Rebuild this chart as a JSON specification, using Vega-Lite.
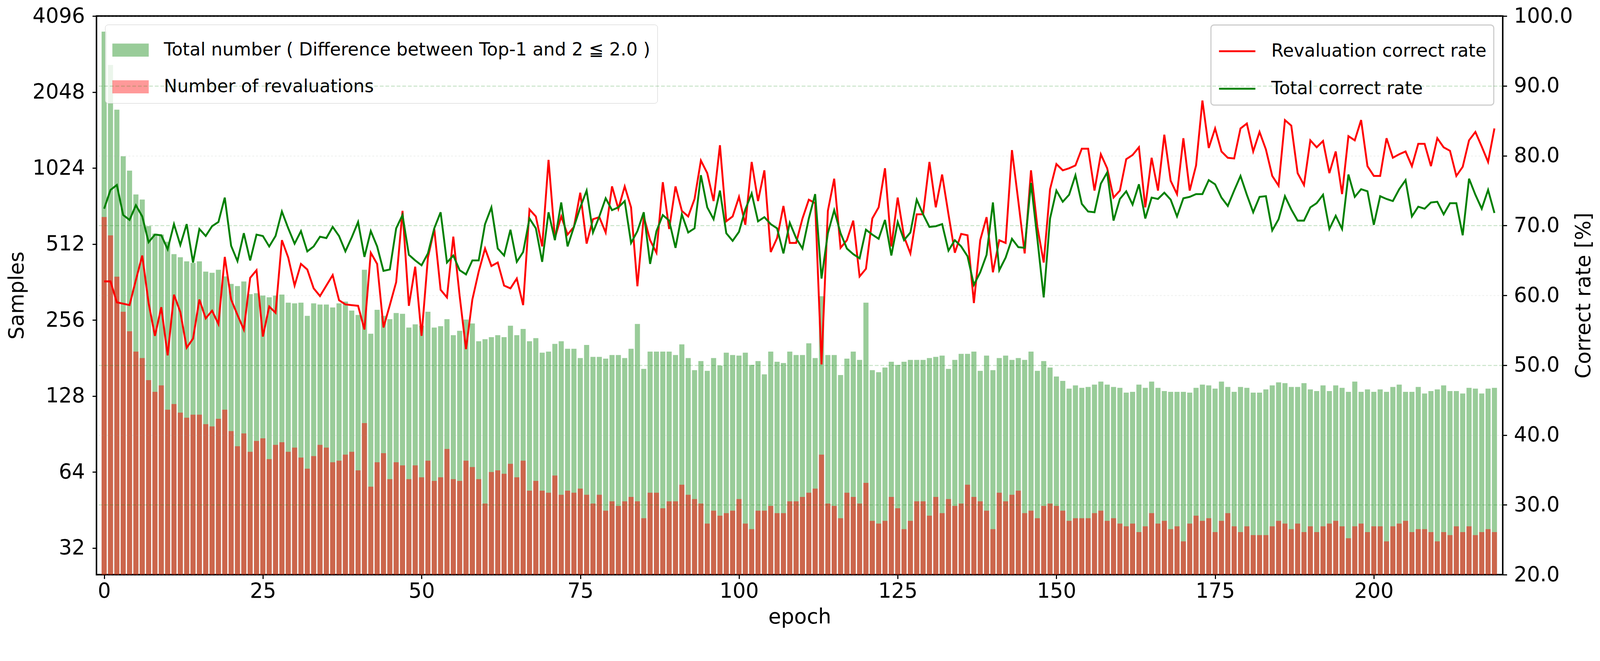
{
"$schema":"https://vega.github.io/schema/vega-lite/v6.json",
"width":3600,"height":1430,
"autosize":{"type":"none"},
"padding":{"left":247,"top":41,"right":258,"bottom":154},
"background":"white",
"config":{
"font":"DejaVu Sans",
"view":{"stroke":"black","strokeWidth":3.8},
"axis":{"labelFont":"DejaVu Sans","titleFont":"DejaVu Sans","labelFontSize":52.8,"titleFontSize":52.8,"labelColor":"black","titleColor":"black","titleFontWeight":"normal","tickColor":"black","tickWidth":2.9,"tickSize":10.6,"domain":false,"grid":false}
},
"data":{"values":[
{"epoch":0,"total":3552,"reval":655,"reval_rate":62.0,"total_rate":72.4},
{"epoch":1,"total":2621,"reval":554,"reval_rate":62.0,"total_rate":75.1},
{"epoch":2,"total":1743,"reval":380,"reval_rate":59.0,"total_rate":75.8},
{"epoch":3,"total":1140,"reval":276,"reval_rate":58.8,"total_rate":71.5},
{"epoch":4,"total":1000,"reval":231,"reval_rate":58.6,"total_rate":70.8},
{"epoch":5,"total":805,"reval":192,"reval_rate":62.2,"total_rate":72.9},
{"epoch":6,"total":768,"reval":181,"reval_rate":65.7,"total_rate":71.3},
{"epoch":7,"total":603,"reval":148,"reval_rate":58.9,"total_rate":67.6},
{"epoch":8,"total":563,"reval":133,"reval_rate":54.2,"total_rate":68.7},
{"epoch":9,"total":558,"reval":141,"reval_rate":58.3,"total_rate":68.6},
{"epoch":10,"total":523,"reval":113,"reval_rate":51.4,"total_rate":66.6},
{"epoch":11,"total":467,"reval":119,"reval_rate":60.1,"total_rate":70.2},
{"epoch":12,"total":454,"reval":110,"reval_rate":57.6,"total_rate":67.2},
{"epoch":13,"total":437,"reval":105,"reval_rate":52.5,"total_rate":70.2},
{"epoch":14,"total":431,"reval":108,"reval_rate":53.8,"total_rate":64.7},
{"epoch":15,"total":437,"reval":108,"reval_rate":59.4,"total_rate":69.5},
{"epoch":16,"total":398,"reval":99,"reval_rate":56.7,"total_rate":68.5},
{"epoch":17,"total":394,"reval":97,"reval_rate":57.8,"total_rate":69.9},
{"epoch":18,"total":405,"reval":104,"reval_rate":55.9,"total_rate":70.5},
{"epoch":19,"total":381,"reval":113,"reval_rate":65.5,"total_rate":74.0},
{"epoch":20,"total":356,"reval":93,"reval_rate":59.4,"total_rate":67.1},
{"epoch":21,"total":349,"reval":81,"reval_rate":57.2,"total_rate":64.9},
{"epoch":22,"total":364,"reval":91,"reval_rate":55.1,"total_rate":68.9},
{"epoch":23,"total":324,"reval":77,"reval_rate":62.5,"total_rate":65.0},
{"epoch":24,"total":327,"reval":85,"reval_rate":63.6,"total_rate":68.7},
{"epoch":25,"total":320,"reval":87,"reval_rate":54.1,"total_rate":68.5},
{"epoch":26,"total":315,"reval":72,"reval_rate":58.4,"total_rate":67.0},
{"epoch":27,"total":320,"reval":82,"reval_rate":57.5,"total_rate":68.5},
{"epoch":28,"total":323,"reval":84,"reval_rate":67.9,"total_rate":72.0},
{"epoch":29,"total":300,"reval":77,"reval_rate":65.4,"total_rate":69.6},
{"epoch":30,"total":298,"reval":80,"reval_rate":61.4,"total_rate":67.4},
{"epoch":31,"total":300,"reval":73,"reval_rate":64.5,"total_rate":69.2},
{"epoch":32,"total":266,"reval":66,"reval_rate":63.7,"total_rate":66.3},
{"epoch":33,"total":298,"reval":74,"reval_rate":61.0,"total_rate":67.0},
{"epoch":34,"total":295,"reval":82,"reval_rate":59.9,"total_rate":68.4},
{"epoch":35,"total":295,"reval":80,"reval_rate":61.4,"total_rate":68.2},
{"epoch":36,"total":287,"reval":70,"reval_rate":62.9,"total_rate":69.8},
{"epoch":37,"total":298,"reval":71,"reval_rate":59.3,"total_rate":68.5},
{"epoch":38,"total":303,"reval":75,"reval_rate":58.7,"total_rate":66.3},
{"epoch":39,"total":279,"reval":77,"reval_rate":58.6,"total_rate":68.3},
{"epoch":40,"total":268,"reval":65,"reval_rate":58.5,"total_rate":70.5},
{"epoch":41,"total":405,"reval":100,"reval_rate":55.1,"total_rate":65.5},
{"epoch":42,"total":226,"reval":56,"reval_rate":66.1,"total_rate":69.2},
{"epoch":43,"total":281,"reval":70,"reval_rate":64.5,"total_rate":67.0},
{"epoch":44,"total":266,"reval":76,"reval_rate":55.4,"total_rate":63.5},
{"epoch":45,"total":258,"reval":60,"reval_rate":58.6,"total_rate":63.7},
{"epoch":46,"total":273,"reval":70,"reval_rate":61.9,"total_rate":69.6},
{"epoch":47,"total":271,"reval":68,"reval_rate":72.1,"total_rate":71.5},
{"epoch":48,"total":239,"reval":60,"reval_rate":58.5,"total_rate":65.8},
{"epoch":49,"total":246,"reval":68,"reval_rate":64.1,"total_rate":65.0},
{"epoch":50,"total":243,"reval":61,"reval_rate":54.2,"total_rate":64.3},
{"epoch":51,"total":276,"reval":71,"reval_rate":65.4,"total_rate":66.0},
{"epoch":52,"total":239,"reval":59,"reval_rate":69.5,"total_rate":69.6},
{"epoch":53,"total":242,"reval":61,"reval_rate":60.8,"total_rate":71.9},
{"epoch":54,"total":258,"reval":79,"reval_rate":59.7,"total_rate":64.7},
{"epoch":55,"total":223,"reval":60,"reval_rate":68.4,"total_rate":65.7},
{"epoch":56,"total":232,"reval":59,"reval_rate":59.9,"total_rate":63.6},
{"epoch":57,"total":257,"reval":71,"reval_rate":52.3,"total_rate":63.0},
{"epoch":58,"total":248,"reval":67,"reval_rate":59.4,"total_rate":65.0},
{"epoch":59,"total":211,"reval":60,"reval_rate":63.4,"total_rate":65.0},
{"epoch":60,"total":215,"reval":48,"reval_rate":66.7,"total_rate":70.2},
{"epoch":61,"total":219,"reval":64,"reval_rate":64.2,"total_rate":72.6},
{"epoch":62,"total":223,"reval":65,"reval_rate":64.7,"total_rate":66.7},
{"epoch":63,"total":219,"reval":63,"reval_rate":61.4,"total_rate":65.7},
{"epoch":64,"total":243,"reval":69,"reval_rate":61.0,"total_rate":69.4},
{"epoch":65,"total":223,"reval":61,"reval_rate":62.4,"total_rate":64.8},
{"epoch":66,"total":236,"reval":71,"reval_rate":58.6,"total_rate":66.2},
{"epoch":67,"total":211,"reval":54,"reval_rate":72.3,"total_rate":71.0},
{"epoch":68,"total":217,"reval":59,"reval_rate":71.3,"total_rate":69.6},
{"epoch":69,"total":190,"reval":54,"reval_rate":67.0,"total_rate":64.8},
{"epoch":70,"total":192,"reval":53,"reval_rate":79.4,"total_rate":71.9},
{"epoch":71,"total":206,"reval":62,"reval_rate":68.2,"total_rate":67.9},
{"epoch":72,"total":211,"reval":52,"reval_rate":71.3,"total_rate":73.3},
{"epoch":73,"total":197,"reval":54,"reval_rate":68.7,"total_rate":67.0},
{"epoch":74,"total":197,"reval":53,"reval_rate":69.8,"total_rate":69.8},
{"epoch":75,"total":181,"reval":55,"reval_rate":74.7,"total_rate":72.6},
{"epoch":76,"total":204,"reval":52,"reval_rate":67.4,"total_rate":75.0},
{"epoch":77,"total":183,"reval":48,"reval_rate":70.9,"total_rate":69.0},
{"epoch":78,"total":183,"reval":52,"reval_rate":71.2,"total_rate":71.3},
{"epoch":79,"total":180,"reval":45,"reval_rate":69.0,"total_rate":73.9},
{"epoch":80,"total":186,"reval":49,"reval_rate":75.6,"total_rate":72.2},
{"epoch":81,"total":186,"reval":47,"reval_rate":72.4,"total_rate":72.6},
{"epoch":82,"total":181,"reval":49,"reval_rate":75.6,"total_rate":73.5},
{"epoch":83,"total":197,"reval":51,"reval_rate":72.6,"total_rate":67.5},
{"epoch":84,"total":247,"reval":49,"reval_rate":61.3,"total_rate":69.2},
{"epoch":85,"total":164,"reval":42,"reval_rate":71.3,"total_rate":71.9},
{"epoch":86,"total":192,"reval":53,"reval_rate":67.9,"total_rate":64.5},
{"epoch":87,"total":192,"reval":53,"reval_rate":66.1,"total_rate":69.2},
{"epoch":88,"total":192,"reval":46,"reval_rate":76.2,"total_rate":71.5},
{"epoch":89,"total":192,"reval":49,"reval_rate":69.5,"total_rate":70.7},
{"epoch":90,"total":186,"reval":49,"reval_rate":75.6,"total_rate":66.8},
{"epoch":91,"total":205,"reval":57,"reval_rate":72.1,"total_rate":71.6},
{"epoch":92,"total":181,"reval":52,"reval_rate":71.3,"total_rate":69.0},
{"epoch":93,"total":162,"reval":50,"reval_rate":73.8,"total_rate":69.6},
{"epoch":94,"total":176,"reval":48,"reval_rate":79.3,"total_rate":77.2},
{"epoch":95,"total":161,"reval":40,"reval_rate":77.5,"total_rate":72.6},
{"epoch":96,"total":181,"reval":45,"reval_rate":73.5,"total_rate":70.9},
{"epoch":97,"total":169,"reval":43,"reval_rate":81.5,"total_rate":75.0},
{"epoch":98,"total":190,"reval":44,"reval_rate":70.6,"total_rate":68.9},
{"epoch":99,"total":186,"reval":45,"reval_rate":71.3,"total_rate":67.8},
{"epoch":100,"total":185,"reval":50,"reval_rate":74.1,"total_rate":69.1},
{"epoch":101,"total":190,"reval":40,"reval_rate":70.1,"total_rate":72.3},
{"epoch":102,"total":170,"reval":38,"reval_rate":79.1,"total_rate":74.6},
{"epoch":103,"total":176,"reval":45,"reval_rate":73.5,"total_rate":70.6},
{"epoch":104,"total":156,"reval":45,"reval_rate":77.9,"total_rate":71.2},
{"epoch":105,"total":192,"reval":47,"reval_rate":66.2,"total_rate":70.2},
{"epoch":106,"total":175,"reval":44,"reval_rate":68.2,"total_rate":69.6},
{"epoch":107,"total":173,"reval":44,"reval_rate":72.8,"total_rate":66.0},
{"epoch":108,"total":192,"reval":49,"reval_rate":67.5,"total_rate":70.4},
{"epoch":109,"total":186,"reval":49,"reval_rate":67.5,"total_rate":68.2},
{"epoch":110,"total":186,"reval":51,"reval_rate":71.0,"total_rate":66.7},
{"epoch":111,"total":207,"reval":53,"reval_rate":73.7,"total_rate":71.0},
{"epoch":112,"total":181,"reval":55,"reval_rate":73.2,"total_rate":74.5},
{"epoch":113,"total":318,"reval":75,"reval_rate":50.1,"total_rate":62.4},
{"epoch":114,"total":186,"reval":48,"reval_rate":72.1,"total_rate":68.9},
{"epoch":115,"total":186,"reval":47,"reval_rate":76.7,"total_rate":72.2},
{"epoch":116,"total":155,"reval":42,"reval_rate":66.8,"total_rate":68.9},
{"epoch":117,"total":180,"reval":53,"reval_rate":67.9,"total_rate":66.7},
{"epoch":118,"total":192,"reval":51,"reval_rate":70.7,"total_rate":65.9},
{"epoch":119,"total":178,"reval":48,"reval_rate":62.7,"total_rate":65.3},
{"epoch":120,"total":300,"reval":58,"reval_rate":63.8,"total_rate":69.4},
{"epoch":121,"total":162,"reval":41,"reval_rate":71.0,"total_rate":68.7},
{"epoch":122,"total":159,"reval":40,"reval_rate":72.6,"total_rate":68.1},
{"epoch":123,"total":166,"reval":41,"reval_rate":78.2,"total_rate":70.8},
{"epoch":124,"total":175,"reval":51,"reval_rate":67.0,"total_rate":65.7},
{"epoch":125,"total":170,"reval":46,"reval_rate":74.0,"total_rate":70.5},
{"epoch":126,"total":175,"reval":38,"reval_rate":68.4,"total_rate":67.9},
{"epoch":127,"total":178,"reval":41,"reval_rate":66.0,"total_rate":69.0},
{"epoch":128,"total":178,"reval":49,"reval_rate":71.6,"total_rate":73.7},
{"epoch":129,"total":178,"reval":49,"reval_rate":71.6,"total_rate":71.6},
{"epoch":130,"total":181,"reval":43,"reval_rate":79.1,"total_rate":69.8},
{"epoch":131,"total":183,"reval":51,"reval_rate":72.6,"total_rate":69.9},
{"epoch":132,"total":185,"reval":44,"reval_rate":77.3,"total_rate":70.2},
{"epoch":133,"total":164,"reval":50,"reval_rate":71.6,"total_rate":66.4},
{"epoch":134,"total":178,"reval":47,"reval_rate":66.1,"total_rate":67.9},
{"epoch":135,"total":188,"reval":48,"reval_rate":68.8,"total_rate":67.0},
{"epoch":136,"total":188,"reval":57,"reval_rate":68.6,"total_rate":65.6},
{"epoch":137,"total":192,"reval":51,"reval_rate":58.9,"total_rate":61.5},
{"epoch":138,"total":161,"reval":49,"reval_rate":67.9,"total_rate":63.3},
{"epoch":139,"total":185,"reval":45,"reval_rate":71.2,"total_rate":65.8},
{"epoch":140,"total":162,"reval":38,"reval_rate":63.3,"total_rate":73.3},
{"epoch":141,"total":181,"reval":53,"reval_rate":67.9,"total_rate":63.6},
{"epoch":142,"total":185,"reval":49,"reval_rate":67.5,"total_rate":65.4},
{"epoch":143,"total":178,"reval":52,"reval_rate":80.8,"total_rate":68.1},
{"epoch":144,"total":181,"reval":54,"reval_rate":73.5,"total_rate":66.9},
{"epoch":145,"total":178,"reval":44,"reval_rate":66.0,"total_rate":66.8},
{"epoch":146,"total":192,"reval":45,"reval_rate":77.9,"total_rate":76.1},
{"epoch":147,"total":161,"reval":42,"reval_rate":69.8,"total_rate":68.1},
{"epoch":148,"total":176,"reval":47,"reval_rate":64.7,"total_rate":59.7},
{"epoch":149,"total":166,"reval":48,"reval_rate":75.2,"total_rate":71.0},
{"epoch":150,"total":153,"reval":47,"reval_rate":78.8,"total_rate":75.0},
{"epoch":151,"total":147,"reval":45,"reval_rate":77.9,"total_rate":73.4},
{"epoch":152,"total":137,"reval":41,"reval_rate":78.2,"total_rate":74.4},
{"epoch":153,"total":141,"reval":42,"reval_rate":78.6,"total_rate":77.2},
{"epoch":154,"total":138,"reval":42,"reval_rate":81.0,"total_rate":73.1},
{"epoch":155,"total":139,"reval":42,"reval_rate":81.0,"total_rate":72.0},
{"epoch":156,"total":142,"reval":44,"reval_rate":75.0,"total_rate":71.9},
{"epoch":157,"total":146,"reval":45,"reval_rate":80.2,"total_rate":76.0},
{"epoch":158,"total":142,"reval":41,"reval_rate":78.2,"total_rate":77.6},
{"epoch":159,"total":139,"reval":42,"reval_rate":74.0,"total_rate":70.7},
{"epoch":160,"total":138,"reval":40,"reval_rate":75.0,"total_rate":73.8},
{"epoch":161,"total":132,"reval":39,"reval_rate":79.5,"total_rate":74.9},
{"epoch":162,"total":133,"reval":40,"reval_rate":80.1,"total_rate":73.0},
{"epoch":163,"total":142,"reval":37,"reval_rate":81.2,"total_rate":75.9},
{"epoch":164,"total":138,"reval":39,"reval_rate":72.6,"total_rate":71.0},
{"epoch":165,"total":146,"reval":44,"reval_rate":79.7,"total_rate":74.0},
{"epoch":166,"total":138,"reval":40,"reval_rate":75.0,"total_rate":73.8},
{"epoch":167,"total":134,"reval":41,"reval_rate":83.0,"total_rate":74.7},
{"epoch":168,"total":133,"reval":38,"reval_rate":76.4,"total_rate":73.7},
{"epoch":169,"total":133,"reval":39,"reval_rate":74.5,"total_rate":71.3},
{"epoch":170,"total":133,"reval":34,"reval_rate":82.5,"total_rate":73.9},
{"epoch":171,"total":132,"reval":40,"reval_rate":75.0,"total_rate":74.1},
{"epoch":172,"total":138,"reval":43,"reval_rate":78.6,"total_rate":74.5},
{"epoch":173,"total":142,"reval":41,"reval_rate":87.9,"total_rate":74.5},
{"epoch":174,"total":141,"reval":42,"reval_rate":81.1,"total_rate":76.5},
{"epoch":175,"total":137,"reval":37,"reval_rate":83.9,"total_rate":75.9},
{"epoch":176,"total":146,"reval":41,"reval_rate":80.6,"total_rate":74.0},
{"epoch":177,"total":139,"reval":44,"reval_rate":79.7,"total_rate":72.8},
{"epoch":178,"total":133,"reval":39,"reval_rate":79.6,"total_rate":75.0},
{"epoch":179,"total":139,"reval":37,"reval_rate":83.9,"total_rate":77.1},
{"epoch":180,"total":138,"reval":39,"reval_rate":84.6,"total_rate":74.4},
{"epoch":181,"total":132,"reval":36,"reval_rate":80.6,"total_rate":71.9},
{"epoch":182,"total":132,"reval":36,"reval_rate":83.4,"total_rate":74.1},
{"epoch":183,"total":136,"reval":36,"reval_rate":80.9,"total_rate":74.2},
{"epoch":184,"total":141,"reval":39,"reval_rate":77.1,"total_rate":69.3},
{"epoch":185,"total":145,"reval":41,"reval_rate":75.7,"total_rate":70.9},
{"epoch":186,"total":144,"reval":40,"reval_rate":85.1,"total_rate":74.2},
{"epoch":187,"total":139,"reval":38,"reval_rate":84.3,"total_rate":72.3},
{"epoch":188,"total":139,"reval":40,"reval_rate":77.5,"total_rate":70.7},
{"epoch":189,"total":144,"reval":37,"reval_rate":75.8,"total_rate":70.7},
{"epoch":190,"total":136,"reval":39,"reval_rate":82.2,"total_rate":72.6},
{"epoch":191,"total":134,"reval":37,"reval_rate":81.2,"total_rate":73.2},
{"epoch":192,"total":141,"reval":39,"reval_rate":82.1,"total_rate":74.4},
{"epoch":193,"total":134,"reval":40,"reval_rate":77.5,"total_rate":69.5},
{"epoch":194,"total":141,"reval":41,"reval_rate":80.6,"total_rate":71.4},
{"epoch":195,"total":138,"reval":39,"reval_rate":74.5,"total_rate":69.5},
{"epoch":196,"total":133,"reval":35,"reval_rate":82.8,"total_rate":77.3},
{"epoch":197,"total":146,"reval":39,"reval_rate":82.2,"total_rate":74.1},
{"epoch":198,"total":133,"reval":40,"reval_rate":85.1,"total_rate":75.2},
{"epoch":199,"total":136,"reval":37,"reval_rate":78.5,"total_rate":74.9},
{"epoch":200,"total":133,"reval":39,"reval_rate":77.1,"total_rate":70.1},
{"epoch":201,"total":136,"reval":39,"reval_rate":77.1,"total_rate":74.2},
{"epoch":202,"total":133,"reval":34,"reval_rate":82.5,"total_rate":73.8},
{"epoch":203,"total":139,"reval":39,"reval_rate":79.7,"total_rate":73.5},
{"epoch":204,"total":142,"reval":40,"reval_rate":80.2,"total_rate":75.2},
{"epoch":205,"total":133,"reval":41,"reval_rate":80.6,"total_rate":76.5},
{"epoch":206,"total":133,"reval":37,"reval_rate":78.5,"total_rate":71.3},
{"epoch":207,"total":139,"reval":38,"reval_rate":81.7,"total_rate":72.7},
{"epoch":208,"total":131,"reval":38,"reval_rate":81.7,"total_rate":72.4},
{"epoch":209,"total":134,"reval":37,"reval_rate":78.5,"total_rate":73.3},
{"epoch":210,"total":136,"reval":34,"reval_rate":82.5,"total_rate":73.4},
{"epoch":211,"total":141,"reval":37,"reval_rate":81.2,"total_rate":71.6},
{"epoch":212,"total":134,"reval":36,"reval_rate":80.7,"total_rate":73.2},
{"epoch":213,"total":134,"reval":39,"reval_rate":77.1,"total_rate":73.2},
{"epoch":214,"total":131,"reval":37,"reval_rate":78.4,"total_rate":68.6},
{"epoch":215,"total":138,"reval":39,"reval_rate":82.2,"total_rate":76.7},
{"epoch":216,"total":137,"reval":36,"reval_rate":83.4,"total_rate":74.4},
{"epoch":217,"total":131,"reval":37,"reval_rate":81.3,"total_rate":72.4},
{"epoch":218,"total":137,"reval":38,"reval_rate":79.1,"total_rate":75.1},
{"epoch":219,"total":138,"reval":37,"reval_rate":83.9,"total_rate":71.8}
]},
"layer":[
{"layer":[
{"mark":{"type":"bar","size":13.06,"opacity":0.4},
"encoding":{
"x":{"field":"epoch","type":"quantitative","scale":{"domain":[-0.9,220],"nice":false,"zero":false},"axis":{"values":[0,25,50,75,100,125,150,175,200],"title":"epoch","labelPadding":5.8,"titlePadding":13.4}},
"y":{"field":"total","type":"quantitative","stack":null,"scale":{"type":"log","base":2,"domain":[25.1,4096],"nice":false},"axis":{"values":[32,64,128,256,512,1024,2048,4096],"format":"d","title":"Samples","labelPadding":19.2,"titlePadding":12.5}},
"y2":{"datum":25.1},
"fill":{"datum":"Total number ( Difference between Top-1 and 2 ≦ 2.0 )","scale":{"domain":["Total number ( Difference between Top-1 and 2 ≦ 2.0 )","Number of revaluations"],"range":["#008000","#ff0000"]},
"legend":{"title":null,"orient":"top-left","offset":22,"symbolType":"M-1,-0.36H1V0.36H-1Z","symbolSize":8668,"symbolStrokeWidth":0,"labelFont":"DejaVu Sans","labelFontSize":45.6,"labelColor":"black","labelLimit":3000,"labelOffset":38.4,"rowPadding":23,"padding":18.2,"fillColor":"rgba(255,255,255,0.8)","strokeColor":"#cccccc","cornerRadius":7.7,
"encode":{"legend":{"update":{"strokeWidth":{"value":2.9}}},"symbols":{"update":{"opacity":{"signal":"datum.value === 'Number of revaluations' ? 0.5 : 0.4"}}}}}}
}},
{"mark":{"type":"bar","size":13.06,"opacity":0.5},
"encoding":{
"x":{"field":"epoch","type":"quantitative"},
"y":{"field":"reval","type":"quantitative","stack":null,"title":"Samples"},
"y2":{"datum":25.1},
"fill":{"datum":"Number of revaluations"}
}}
]},
{"layer":[
{"mark":{"type":"line","strokeWidth":4.8},
"encoding":{
"x":{"field":"epoch","type":"quantitative"},
"y":{"field":"reval_rate","type":"quantitative","scale":{"domain":[20,100],"nice":false,"zero":false},
"axis":{"orient":"right","values":[20,30,40,50,60,70,80,90,100],"format":".1f","title":"Correct rate [%]","titleAngle":270,"labelPadding":17.3,"titlePadding":55,"grid":true,"zindex":1,
"gridColor":{"condition":{"test":"datum.value % 20 === 10","value":"#008000"},"value":"#9aa59a"},
"gridOpacity":{"condition":{"test":"datum.value % 20 === 10","value":0.22},"value":0.15},
"gridDash":{"condition":{"test":"datum.value % 20 === 10","value":[9.6,4.8]},"value":[4.8,4.8]},
"gridWidth":2.4}},
"stroke":{"datum":"Revaluation correct rate","scale":{"domain":["Revaluation correct rate","Total correct rate"],"range":["#ff0000","#008000"]},
"legend":{"title":null,"orient":"top-right","offset":23,"symbolType":"stroke","symbolSize":8668,"symbolStrokeWidth":4.8,"labelFont":"DejaVu Sans","labelFontSize":45.6,"labelColor":"black","labelLimit":3000,"labelOffset":38.4,"rowPadding":23,"padding":18.2,"fillColor":"rgba(255,255,255,0.8)","strokeColor":"#cccccc","cornerRadius":7.7,
"encode":{"legend":{"update":{"strokeWidth":{"value":2.9}}}}}}
}},
{"mark":{"type":"line","strokeWidth":4.8},
"encoding":{
"x":{"field":"epoch","type":"quantitative"},
"y":{"field":"total_rate","type":"quantitative","title":"Correct rate [%]"},
"stroke":{"datum":"Total correct rate"}
}}
]}
],
"resolve":{"scale":{"y":"independent"}}
}
